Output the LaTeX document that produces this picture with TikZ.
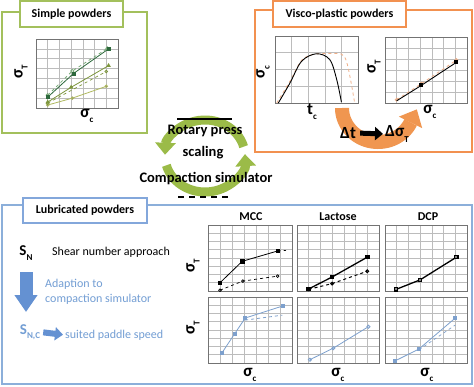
\documentclass[tikz,border=0pt]{standalone}
\usepackage{fontspec}
\setmainfont{Carlito}
\usetikzlibrary{arrows.meta,plotmarks}
\definecolor{sgreen}{RGB}{163,192,92}
\definecolor{ringgreen}{RGB}{155,187,72}
\definecolor{vorange}{RGB}{242,145,80}
\definecolor{arcorange}{RGB}{240,150,80}
\definecolor{lorange}{RGB}{240,175,135}
\definecolor{lblue}{RGB}{140,175,218}
\definecolor{tblue}{RGB}{115,158,212}
\definecolor{ablue}{RGB}{100,145,210}
\definecolor{pblue}{RGB}{125,160,205}
\definecolor{gridc}{RGB}{188,188,188}
\definecolor{framec}{RGB}{115,115,115}
\definecolor{dkgreen}{RGB}{45,105,60}
\definecolor{lgreen}{RGB}{120,170,120}
\definecolor{olivec}{RGB}{125,150,60}
\definecolor{yolive}{RGB}{175,185,95}
\newcommand\sbs[1]{\raisebox{-0.3em}{\fontsize{9}{9}\selectfont #1}}
\newcommand\gridbox[6]{%
 \foreach \gi in {0,...,#5} {\draw[gridl] ({#1+(#3-#1)*\gi/#5},#2) -- ({#1+(#3-#1)*\gi/#5},#4);}
 \foreach \gj in {0,...,#6} {\draw[gridl] (#1,{#2+(#4-#2)*\gj/#6}) -- (#3,{#2+(#4-#2)*\gj/#6});}
 \draw[gridf] (#1,#2) rectangle (#3,#4);}
\begin{document}
\begin{tikzpicture}[x=1pt,y=-1pt,
  gridl/.style={draw=gridc, line width=0.6pt},
  gridf/.style={draw=framec, line width=0.9pt},
  titletxt/.style={font=\fontsize{12}{14}\selectfont\bfseries, fill=white, line width=1.6pt, inner sep=0pt},
  framebox/.style={line width=1.6pt},
  axlab/.style={font=\fontsize{17}{17}\selectfont\bfseries, inner sep=0pt},
  colhead/.style={font=\fontsize{12}{14}\selectfont\bfseries, inner sep=0pt},
  centertxt/.style={font=\fontsize{14.5}{16}\selectfont\bfseries, inner sep=0pt},
  bodytxt/.style={font=\fontsize{12}{14}\selectfont, inner sep=0pt},
]
\useasboundingbox (0,0) rectangle (474,386);
\fill[white] (0,0) rectangle (474,386);

% ---------- frames ----------
\draw[framebox, draw=sgreen] (2,12) rectangle (147,133);
\draw[framebox, draw=vorange] (255,10) rectangle (472,152);
\draw[framebox, draw=lblue] (2,205) rectangle (472,384);

\node[titletxt, draw=sgreen, minimum width=103pt, minimum height=26pt] (tsimple) at (71.5,14) {Simple powders};
\node[titletxt, draw=vorange, minimum width=133pt, minimum height=26pt] (tvisco) at (339.5,14) {Visco-plastic powders};
\node[titletxt, draw=ablue!80, minimum width=124pt, minimum height=25pt] (tlub) at (85,210.5) {Lubricated powders};

% ---------- simple powders chart ----------
\gridbox{36}{39}{118}{108}{7}{7}
\begin{scope}[shift={(36,108)}, x=11.71pt, y=9.857pt]
 \draw[yolive, line width=0.8pt] plot[mark=*, mark size=1.3pt, mark options={fill=gray}] coordinates {(1,0.3)(3.1,1.0)(6.0,2.2)};
 \draw[olivec, dashed, line width=0.7pt] plot[mark=o, mark size=1.4pt, mark options={solid}] coordinates {(1,0.5)(6,3.7)};
 \draw[olivec, line width=0.8pt] plot[mark=triangle*, mark size=1.8pt] coordinates {(1,0.6)(3,2.1)(6.2,4.3)};
 \draw[lgreen, dashed, line width=0.8pt] plot[mark=o, mark size=1.6pt, mark options={solid}] coordinates {(1,1.3)(3.1,3.75)(6.1,6.05)};
 \draw[dkgreen, line width=0.8pt] plot[mark=square*, mark size=1.5pt] coordinates {(1,1.1)(3.2,3.5)(6.2,6.0)};
\end{scope}
\node[axlab, rotate=90] (s1y) at (21,72) {σ\sbs{T}};
\node[axlab] (s1x) at (87,116) {σ\sbs{c}};

% ---------- visco-plastic charts ----------
\gridbox{275}{36}{358}{103}{5}{4}
\begin{scope}[shift={(275,103)}, x=16.6pt, y=16.75pt]
 \draw[lorange, dashed, line width=0.8pt] plot[smooth, tension=0.5] coordinates {(0.1,0)(0.9,1.3)(1.6,2.55)(2.3,2.9)(3.0,2.95)(4.0,2.92)(4.3,2.5)(4.55,1.4)(4.8,0)};
 \draw[black, line width=0.9pt] plot[smooth, tension=0.55] coordinates {(0.2,0)(0.9,1.19)(1.6,2.49)(2.5,2.94)(3.3,2.59)(3.72,1.39)(4.0,0.05)};
\end{scope}
\gridbox{385}{37}{467}{103}{7}{6}
\begin{scope}[shift={(385,103)}, x=11.71pt, y=11pt]
 \draw[lorange, dashed, line width=0.8pt] plot[mark=o, mark size=1.5pt, mark options={solid}] coordinates {(1.0,0.3)(3.1,1.75)(6.1,3.9)};
 \draw[black, line width=0.9pt] (1.0,0.2) -- (3.1,1.6) -- (6.1,3.7);
 \fill[black] (3.1,1.6) +(-2pt,-2pt) rectangle +(2pt,2pt);
 \fill[black] (6.1,3.7) +(-2pt,-2pt) rectangle +(2pt,2pt);
\end{scope}
\node[axlab, rotate=90] (v1y) at (263,72) {σ\sbs{c}};
\node[axlab] (v1x) at (312,112) {t\sbs{c}};
\node[axlab, rotate=90] (v2y) at (374,67) {σ\sbs{T}};
\node[axlab] (v2x) at (430,112) {σ\sbs{c}};

% orange curved arrow (band + head)
\draw[arcorange, line width=14pt] plot[domain=180:25, samples=60, variable=\t] ({378+36*cos(\t)},{108+34*sin(\t)});
\coordinate (oh1) at (398.9,116.6);
\coordinate (oh2) at (416.8,109.4);
\coordinate (oh3) at (422.2,128.2);
\fill[arcorange] (oh1) -- (oh2) -- (oh3) -- cycle;
\node[axlab, anchor=west] (dt) at (340,133) {Δt};
\node[axlab, anchor=west] (dst) at (385,134) {Δσ\sbs{T}};
\draw[black, line width=5pt, -{Triangle[width=13pt,length=8pt]}, shorten <=4pt, shorten >=2pt] (dt.east) -- (dst.west);

% ---------- center cycle ----------
\draw[ringgreen, line width=9pt, -{Triangle[width=20pt,length=12pt]}] (205,156) ++(345:40 and 36) arc[start angle=345, end angle=182, x radius=40, y radius=36];
\draw[ringgreen, line width=9pt, -{Triangle[width=20pt,length=12pt]}] (205,156) ++(165:40 and 36) arc[start angle=165, end angle=-3, x radius=40, y radius=36];
\coordinate (tl1) at (177,119);
\coordinate (tl2) at (232,119);
\coordinate (bl1) at (178,197);
\coordinate (bl2) at (232,197);
\draw[black, line width=2pt] (tl1) -- (tl2);
\draw[black, line width=2.5pt, dash pattern=on 6pt off 5pt] (bl1) -- (bl2);
\node[centertxt] (rp) at (205,131) {Rotary press};
\node[centertxt] (scl) at (203,153) {scaling};
\node[centertxt] (cs) at (206,179) {Compaction simulator};

% ---------- lubricated powders ----------
\node[font=\fontsize{15}{15}\selectfont\bfseries, inner sep=0pt] (sn) at (26,253) {S\sbs{N}};
\node[bodytxt, anchor=west] (sna) at (52,252) {Shear number approach};
\coordinate (da1) at (26,272);
\coordinate (da2) at (26,312);
\draw[ablue, line width=13pt, -{Triangle[width=22pt,length=17pt]}] (da1) -- (da2);
\node[bodytxt, anchor=west, text=tblue] (ad1) at (45,284) {Adaption to};
\node[bodytxt, anchor=west, text=tblue] (ad2) at (45,299) {compaction simulator};
\node[font=\fontsize{15}{15}\selectfont\bfseries, text=tblue, inner sep=0pt] (snc) at (30,332) {S\sbs{N,C}};
\node[bodytxt, anchor=west, text=tblue] (spd) at (65,335) {suited paddle speed};
\draw[ablue, line width=6pt, -{Triangle[width=13pt,length=8pt]}, shorten <=3pt, shorten >=2pt] (snc.east) -- (spd.west);

\node[colhead] (hmcc) at (251,217) {MCC};
\node[colhead] (hlac) at (338,217) {Lactose};
\node[colhead] (hdcp) at (428,217) {DCP};

\gridbox{208}{225}{292}{291}{7}{8}
\gridbox{297}{225}{379}{291}{7}{8}
\gridbox{385}{225}{467}{291}{7}{8}
\gridbox{208}{297}{292}{363}{7}{8}
\gridbox{297}{297}{379}{363}{7}{8}
\gridbox{385}{297}{467}{363}{7}{8}

\begin{scope}[shift={(208,291)}, x=12pt, y=8.25pt]
 \draw[black, dashed, line width=0.7pt] plot[mark=o, mark size=1.4pt, mark options={solid}] coordinates {(1,0.1)(2.9,1.2)(5.8,1.8)};
 \draw[black, line width=0.8pt] plot[mark=square*, mark size=1.7pt] coordinates {(1,1)(2.85,3.6)(5.8,4.85)};
 \draw[black, dashed, line width=0.6pt] (5.8,4.85) -- (6.5,4.92);
\end{scope}
\begin{scope}[shift={(208,363)}, x=12pt, y=8.25pt]
 \draw[pblue, dashed, line width=0.8pt] (3.1,5.2) -- (6.2,5.8);
 \draw[pblue, line width=0.8pt] plot[mark=square*, mark size=1.5pt] coordinates {(1.15,1.2)(2.2,3.5)(3.1,5.45)(6.2,6.9)};
\end{scope}
\begin{scope}[shift={(297,291)}, x=11.71pt, y=8.25pt]
 \draw[black, dashed, line width=1pt] plot[mark=o, mark size=1.4pt, mark options={solid}] coordinates {(1,0.2)(3,0.9)(6,2.4)};
 \draw[black, line width=1.3pt] plot[mark=square*, mark size=1.6pt] coordinates {(1,0.25)(3,1.7)(6,4.1)};
\end{scope}
\begin{scope}[shift={(297,363)}, x=11.71pt, y=8.25pt]
 \draw[pblue, line width=0.8pt] plot[mark=o, mark size=1.6pt] coordinates {(1.1,0.4)(3.1,1.8)(6.1,4.4)};
\end{scope}
\begin{scope}[shift={(385,291)}, x=11.71pt, y=8.25pt]
 \draw[black, line width=1.3pt] plot[mark=square*, mark size=1.6pt, mark options={fill=gray}] coordinates {(0.95,0.2)(3,1.35)(6.1,4.1)};
\end{scope}
\begin{scope}[shift={(385,363)}, x=11.71pt, y=8.25pt]
 \draw[pblue, dashed, line width=0.7pt] (2.9,1.6) -- (6,4.6);
 \draw[pblue, line width=0.8pt] plot[mark=square*, mark size=1.5pt] coordinates {(0.85,0.25)(2.9,1.7)(6,5.45)};
\end{scope}

\node[axlab, rotate=90] (ly1) at (193,266) {σ\sbs{T}};
\node[axlab, rotate=90] (ly2) at (193,328) {σ\sbs{T}};
\node[axlab] (lx1) at (250,375) {σ\sbs{c}};
\node[axlab] (lx2) at (338,375) {σ\sbs{c}};
\node[axlab] (lx3) at (427,375) {σ\sbs{c}};
\end{tikzpicture}
\end{document}
